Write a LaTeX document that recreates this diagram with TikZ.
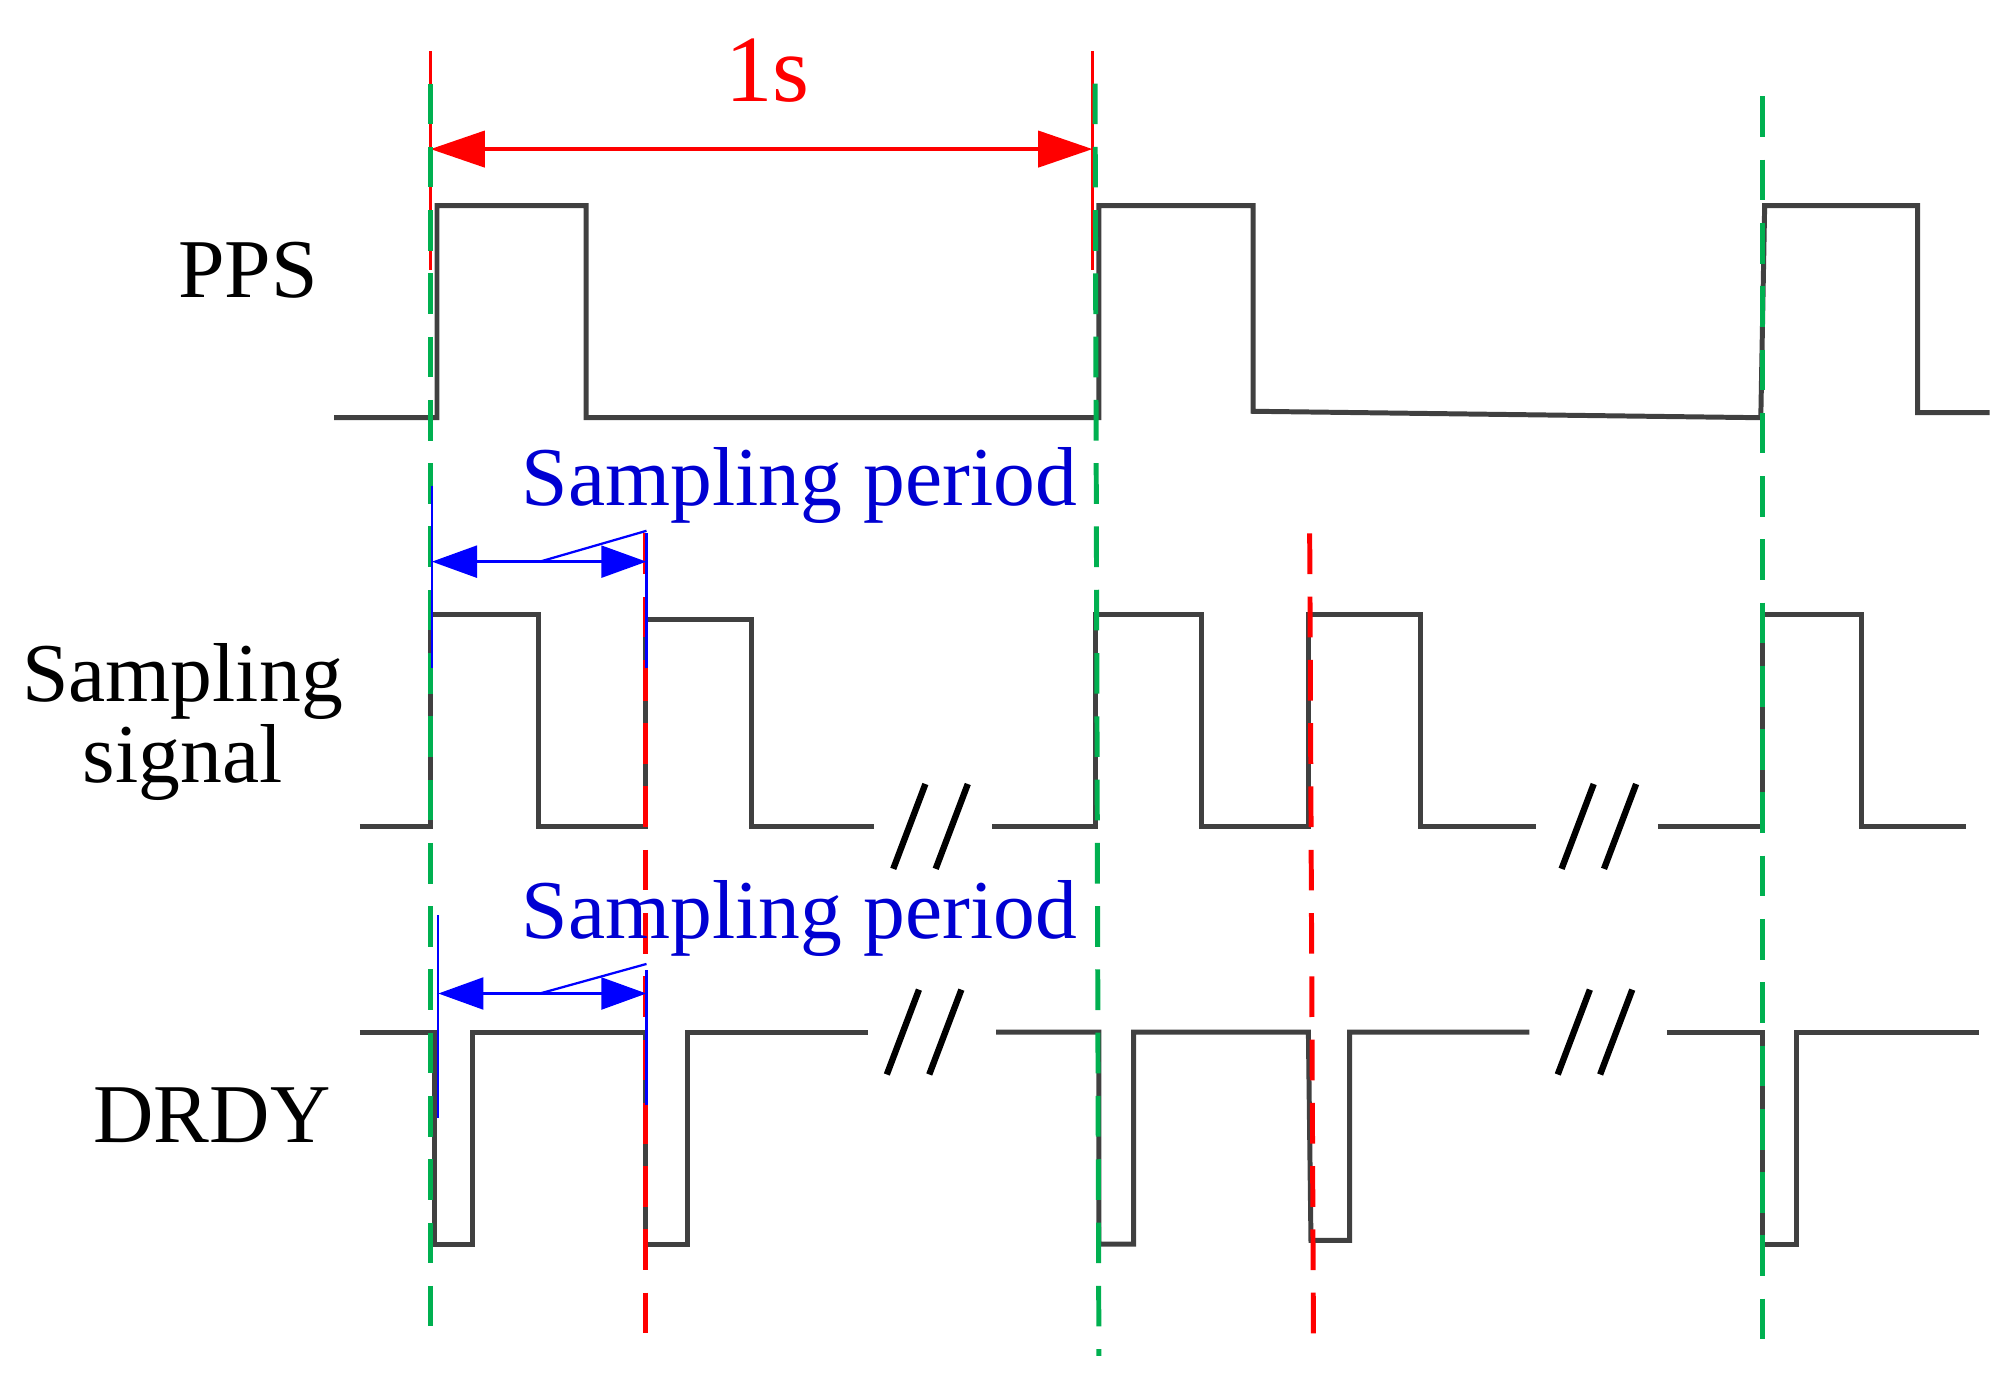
\documentclass[tikz,border=0pt]{standalone}
\usepackage{fontspec}
\setmainfont{Liberation Serif}
\usetikzlibrary{arrows.meta}
\begin{document}
\begin{tikzpicture}[x=0.01cm,y=-0.01cm,
  sig/.style={draw={rgb,255:red,64;green,64;blue,64},line width=1.1pt},
  gdash/.style={draw={rgb,255:red,0;green,176;blue,80},line width=1.1pt,dash pattern=on 9pt off 5pt},
  rdash/.style={draw=red,line width=1.1pt,dash pattern=on 9pt off 5pt},
  brk/.style={draw=black,line width=1.4pt},
  lbl/.style={font=\fontsize{18.5}{22}\selectfont,align=center},
  blab/.style={font=\fontsize{18.5}{22}\selectfont,text={rgb,255:red,0;green,0;blue,210}},
  barr/.style={draw=blue,line width=0.8pt,{Triangle[length=10pt,width=7pt]}-{Triangle[length=10pt,width=7pt]}},
  bthin/.style={draw=blue,line width=0.5pt}]
\useasboundingbox (0,0) rectangle (1560,1082);
% labels
\node[lbl] (pps) at (193,210) {PPS};
\node[lbl] (ss) at (142,562) {Sampling\\[-4pt]signal};
\node[lbl] (drdy) at (165,868) {DRDY};
% red 1s markers
\coordinate (r1t) at (335,40); \coordinate (r1b) at (335,210);
\coordinate (r2t) at (850,40); \coordinate (r2b) at (850,210);
\draw[red,line width=0.6pt] (r1t) -- (r1b);
\draw[red,line width=0.6pt] (r2t) -- (r2b);
\coordinate (a1) at (335,116); \coordinate (a2) at (850,116);
\draw[red,line width=0.8pt,{Triangle[length=12pt,width=8pt]}-{Triangle[length=12pt,width=8pt]}] (a1) -- (a2);
\node[text=red,font=\fontsize{21}{24}\selectfont] (onesec) at (597,55) {1s};
% PPS
\draw[sig] (260,325)--(340,325)--(340,160)--(456,160)--(456,325)--(855,325)--(855,160)--(975,160)--(975,320)--(1370,325)--(1373,160)--(1492,160)--(1492,321)--(1548,321);
% sampling signal
\draw[sig] (280,643)--(335,643)--(335,478)--(419,478)--(419,643)--(502,643)--(502,482)--(585,482)--(585,643)--(680,643);
\draw[sig] (772,643)--(852,643)--(852,478)--(935,478)--(935,643)--(1018,643)--(1018,478)--(1105,478)--(1105,643)--(1195,643);
\draw[sig] (1290,643)--(1371,643)--(1371,478)--(1448,478)--(1448,643)--(1530,643);
% DRDY
\draw[sig] (280,803)--(338,803)--(338,968)--(368,968)--(368,803)--(502,803)--(502,968)--(535,968)--(535,803)--(675,803);
\draw[sig] (775,803)--(855,803)--(855,968)--(882,968)--(882,803)--(1018,803)--(1020,965)--(1050,965)--(1050,803)--(1190,803);
\draw[sig] (1297,803)--(1371,803)--(1371,968)--(1398,968)--(1398,803)--(1540,803);
% breaks
\foreach \x/\y in {725/643,1245/643,720/803,1242/803}{
  \draw[brk] (\x-30,\y+33)--(\x-5,\y-33);
  \draw[brk] (\x+3,\y+33)--(\x+28,\y-33);
}
% dashed lines
\draw[gdash] (335,65)--(335,1045);
\draw[gdash] (852,65)--(855,1055);
\draw[gdash] (1371,75)--(1371,1055);
\draw[rdash] (502,415)--(502,1055);
\draw[rdash] (1019,415)--(1022,1055);
% sampling period 1
\draw[bthin] (336,378)--(336,520);
\draw[bthin] (503,415)--(503,520);
\coordinate (b1) at (336,437); \coordinate (b2) at (503,437);
\draw[barr] (b1)--(b2);
\draw[bthin] (420,437)--(503,413);
\node[blab] (sp1) at (622,378) {Sampling period};
% sampling period 2
\draw[bthin] (341,712)--(341,870);
\draw[bthin] (503,755)--(503,860);
\coordinate (c1) at (341,773); \coordinate (c2) at (503,773);
\draw[barr] (c1)--(c2);
\draw[bthin] (420,773)--(503,750);
\node[blab] (sp2) at (622,715) {Sampling period};
\end{tikzpicture}
\end{document}
